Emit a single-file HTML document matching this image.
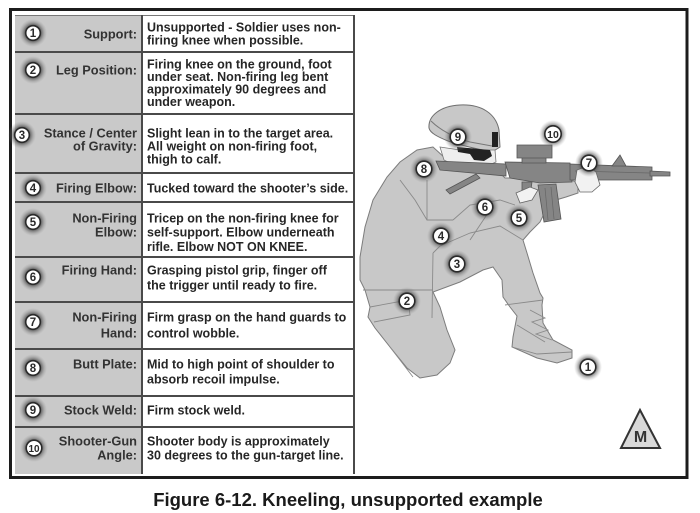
<!DOCTYPE html>
<html><head><meta charset="utf-8"><style>
html,body{margin:0;padding:0;background:#fff;}
svg{display:block;}
text{font-family:"Liberation Sans",Arial,sans-serif;font-weight:bold;}
</style></head><body>
<svg width="700" height="513" viewBox="0 0 700 513" xmlns="http://www.w3.org/2000/svg">
<defs>
<radialGradient id="g">
<stop offset="0" stop-color="#1e1e1e" stop-opacity="1"/>
<stop offset="0.55" stop-color="#3a3a3a" stop-opacity="0.75"/>
<stop offset="0.8" stop-color="#666" stop-opacity="0.3"/>
<stop offset="1" stop-color="#888" stop-opacity="0"/>
</radialGradient>
</defs>
<rect width="700" height="513" fill="#fff"/>
<!-- outer frame -->
<rect x="10.5" y="9.5" width="676.5" height="468" fill="none" stroke="#1c1c1c" stroke-width="3"/>

<!-- table -->
<rect x="15" y="15" width="127" height="459" fill="#c9c9c9"/>
<line x1="15" y1="15.5" x2="355" y2="15.5" stroke="#777" stroke-width="1"/>
<g stroke="#4a4a4a" stroke-width="2">
<line x1="15" y1="52" x2="355" y2="52"/>
<line x1="15" y1="114" x2="355" y2="114"/>
<line x1="15" y1="173" x2="355" y2="173"/>
<line x1="15" y1="202" x2="355" y2="202"/>
<line x1="15" y1="257" x2="355" y2="257"/>
<line x1="15" y1="302" x2="355" y2="302"/>
<line x1="15" y1="349" x2="355" y2="349"/>
<line x1="15" y1="396" x2="355" y2="396"/>
<line x1="15" y1="427" x2="355" y2="427"/>
<line x1="142" y1="15" x2="142" y2="474"/>
<line x1="354" y1="15" x2="354" y2="474"/>
</g>

<!-- labels -->
<g font-size="12.8" fill="#333" text-anchor="end">
<text x="137" y="38.5">Support:</text>
<text x="137" y="74.5">Leg Position:</text>
<text x="137" y="137.5">Stance / Center</text>
<text x="137" y="150.5">of Gravity:</text>
<text x="137" y="192.5">Firing Elbow:</text>
<text x="137" y="222.5">Non-Firing</text>
<text x="137" y="236.5">Elbow:</text>
<text x="137" y="274.5">Firing Hand:</text>
<text x="137" y="321.5">Non-Firing</text>
<text x="137" y="337.5">Hand:</text>
<text x="137" y="368.5">Butt Plate:</text>
<text x="137" y="414.5">Stock Weld:</text>
<text x="137" y="445.5">Shooter-Gun</text>
<text x="137" y="459.5">Angle:</text>
</g>

<!-- descriptions -->
<g font-size="12.5" fill="#262626">
<text x="147" y="31.5">Unsupported - Soldier uses non-</text>
<text x="147" y="44.5">firing knee when possible.</text>
<text x="147" y="68.5">Firing knee on the ground, foot</text>
<text x="147" y="81">under seat. Non-firing leg bent</text>
<text x="147" y="93.5">approximately 90 degrees and</text>
<text x="147" y="106">under weapon.</text>
<text x="147" y="137.5">Slight lean in to the target area.</text>
<text x="147" y="150.5">All weight on non-firing foot,</text>
<text x="147" y="163.5">thigh to calf.</text>
<text x="147" y="192.5">Tucked toward the shooter’s side.</text>
<text x="147" y="222.5">Tricep on the non-firing knee for</text>
<text x="147" y="236.5">self-support. Elbow underneath</text>
<text x="147" y="251">rifle. Elbow NOT ON KNEE.</text>
<text x="147" y="274.5">Grasping pistol grip, finger off</text>
<text x="147" y="289.5">the trigger until ready to fire.</text>
<text x="147" y="321.5">Firm grasp on the hand guards to</text>
<text x="147" y="337.5">control wobble.</text>
<text x="147" y="368.5">Mid to high point of shoulder to</text>
<text x="147" y="383.5">absorb recoil impulse.</text>
<text x="147" y="414.5">Firm stock weld.</text>
<text x="147" y="445.5">Shooter body is approximately</text>
<text x="147" y="459.5">30 degrees to the gun-target line.</text>
</g>

<!-- illustration: body -->
<path d="M433,147 L417,150 L400,162 L387,177 L373,200 L365,227 L360,257 L360,280 L365,290 L370,307 L368,317 L375,328 L390,347 L407,368 L420,378 L437,375 L450,363 L455,350 L447,330 L440,307 L433,292 L460,282 L483,270 L493,267 L502,280 L503,297 L510,307 L517,316 L513,337 L512,347 L537,358 L557,363 L572,358 L572,350 L553,340 L543,323 L542,305 L543,298 L540,293 L533,273 L527,253 L523,240 L530,232 L540,222 L545,212 L556,200 L566,197 L578,193 L578,182 L560,178 L505,178 L495,168 L490,160 L470,163 L445,158 Z" fill="#c8c8c8" stroke="#7c7c7c" stroke-width="1"/>
<g fill="none" stroke="#8a8a8a" stroke-width="0.9">
<path d="M363,290 L433,290"/>
<path d="M433,253 L432,318"/>
<path d="M370,307 L408,300 L410,315 L374,322"/>
<path d="M390,347 L413,377"/>
<path d="M427,180 L427,220 L453,220"/>
<path d="M433,253 L440,246 L470,233 L500,226 L523,240"/>
<path d="M453,220 L470,205 L500,200 L515,205"/>
<path d="M400,180 L415,200 L427,220"/>
<path d="M505,305 L543,300"/>
<path d="M512,347 L537,354 L572,352"/>
<path d="M530,310 L545,318 L532,322 L548,330 L536,334 L552,340"/>
<path d="M517,325 L545,342"/>
<path d="M470,240 L480,225 L490,210"/>
</g>
<!-- helmet -->
<path d="M429,128 C428,116 440,106 460,105 C482,104 496,114 499,130 L500,147 L492,152 C478,149 462,146 448,141 C438,137 430,133 429,128 Z" fill="#c8c8c8" stroke="#6e6e6e" stroke-width="1"/>
<path d="M431,121 C440,130 455,138 470,142 L492,146" fill="none" stroke="#777" stroke-width="1"/>
<rect x="492" y="132" width="6" height="15" fill="#222"/>
<!-- face -->
<path d="M440,147 L460,150 L495,150 L496,162 L482,168 L460,168 L444,160 Z" fill="#eeeeee" stroke="#777" stroke-width="0.8"/>
<path d="M457,147 L490,150 L492,156 L484,161 L474,160 L470,154 L458,152 Z" fill="#222"/>

<!-- rifle -->
<g fill="#858585" stroke="#555" stroke-width="0.8">
<path d="M436,161 L506,164 L506,176 L440,170 Z"/>
<path d="M446,190 L476,174 L480,178 L450,194 Z"/>
<path d="M505,162 L570,163 L572,182 L540,183 L510,178 Z"/>
<path d="M522,156 L546,156 L546,163 L522,163 Z"/>
<path d="M517,145 L552,145 L552,158 L517,158 Z"/>
<path d="M570,164 L652,167 L652,180 L570,180 Z"/>
<path d="M612,166 L620,155 L626,166 Z"/>
<path d="M650,171 L670,172 L670,176 L650,176 Z"/>
<path d="M538,185 L556,184 L561,219 L544,222 Z"/>
<path d="M522,182 L532,182 L530,196 L522,196 Z"/>
</g>
<g fill="none" stroke="#666" stroke-width="0.7">
<path d="M545,188 L548,220"/><path d="M551,187 L554,219"/>
<path d="M575,171 L650,173"/>
</g>
<!-- hands -->
<path d="M577,170 L588,166 L596,172 L600,185 L592,192 L580,192 L575,182 Z" fill="#f2f2f2" stroke="#666" stroke-width="0.8"/>
<path d="M516,193 L530,187 L538,190 L532,200 L520,203 Z" fill="#f2f2f2" stroke="#666" stroke-width="0.8"/>

<!-- M symbol -->
<path d="M640,410 L621,448 L660,448 Z" fill="#d9d9d9" stroke="#333" stroke-width="2" stroke-linejoin="miter"/>
<text x="640.5" y="442" font-size="16" fill="#333" text-anchor="middle">M</text>

<!-- markers -->
<g>
<circle cx="33" cy="33" r="14" fill="url(#g)"/>
<circle cx="33" cy="70" r="14" fill="url(#g)"/>
<circle cx="22" cy="135" r="14" fill="url(#g)"/>
<circle cx="33" cy="188" r="14" fill="url(#g)"/>
<circle cx="33" cy="222" r="14" fill="url(#g)"/>
<circle cx="33" cy="277" r="14" fill="url(#g)"/>
<circle cx="33" cy="322" r="14" fill="url(#g)"/>
<circle cx="33" cy="368" r="14" fill="url(#g)"/>
<circle cx="33" cy="410" r="14" fill="url(#g)"/>
<circle cx="34" cy="448" r="14" fill="url(#g)"/>
<circle cx="458" cy="137" r="14" fill="url(#g)"/>
<circle cx="553" cy="134" r="14" fill="url(#g)"/>
<circle cx="424" cy="169" r="14" fill="url(#g)"/>
<circle cx="589" cy="163" r="14" fill="url(#g)"/>
<circle cx="485" cy="207" r="14" fill="url(#g)"/>
<circle cx="519" cy="218" r="14" fill="url(#g)"/>
<circle cx="441" cy="236" r="14" fill="url(#g)"/>
<circle cx="457" cy="264" r="14" fill="url(#g)"/>
<circle cx="407" cy="301" r="14" fill="url(#g)"/>
<circle cx="588" cy="367" r="14" fill="url(#g)"/>
</g>
<g fill="#fff" stroke="#2a2a2a" stroke-width="1.6">
<circle cx="33" cy="33" r="7.3"/>
<circle cx="33" cy="70" r="7.3"/>
<circle cx="22" cy="135" r="7.3"/>
<circle cx="33" cy="188" r="7.3"/>
<circle cx="33" cy="222" r="7.3"/>
<circle cx="33" cy="277" r="7.3"/>
<circle cx="33" cy="322" r="7.3"/>
<circle cx="33" cy="368" r="7.3"/>
<circle cx="33" cy="410" r="7.3"/>
<circle cx="34" cy="448" r="7.8"/>
<circle cx="458" cy="137" r="7.8"/>
<circle cx="553" cy="134" r="8.2"/>
<circle cx="424" cy="169" r="7.8"/>
<circle cx="589" cy="163" r="7.8"/>
<circle cx="485" cy="207" r="7.8"/>
<circle cx="519" cy="218" r="7.8"/>
<circle cx="441" cy="236" r="7.8"/>
<circle cx="457" cy="264" r="7.8"/>
<circle cx="407" cy="301" r="7.8"/>
<circle cx="588" cy="367" r="7.8"/>
</g>
<g fill="#2a2a2a" font-size="11.5" text-anchor="middle">
<text x="33" y="37">1</text>
<text x="33" y="74">2</text>
<text x="22" y="139">3</text>
<text x="33" y="192">4</text>
<text x="33" y="226">5</text>
<text x="33" y="281">6</text>
<text x="33" y="326">7</text>
<text x="33" y="372">8</text>
<text x="33" y="414">9</text>
<text x="34" y="451.8" font-size="10">10</text>
<text x="458" y="141">9</text>
<text x="553" y="137.8" font-size="10.5">10</text>
<text x="424" y="173">8</text>
<text x="589" y="167">7</text>
<text x="485" y="211">6</text>
<text x="519" y="222">5</text>
<text x="441" y="240">4</text>
<text x="457" y="268">3</text>
<text x="407" y="305">2</text>
<text x="588" y="371">1</text>
</g>

<!-- caption -->
<text x="348" y="506" font-size="18.5" fill="#1a1a1a" text-anchor="middle">Figure 6-12. Kneeling, unsupported example</text>
</svg>
</body></html>
